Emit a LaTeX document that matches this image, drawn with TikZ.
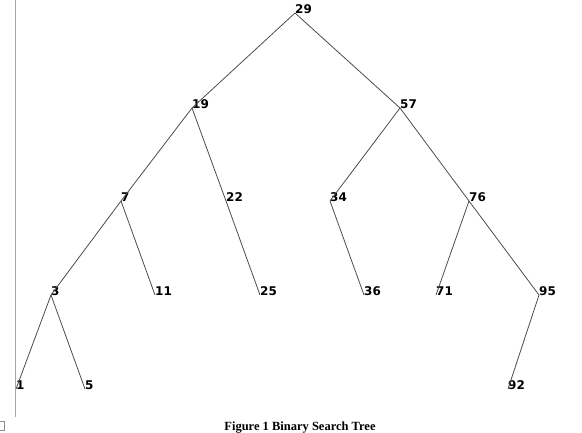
\documentclass[tikz,border=0pt]{standalone}
\usepackage{fontspec}
\setmainfont{Liberation Serif}
\newfontfamily\keyfont{DejaVu Sans}
\usepackage{tikz}
\usetikzlibrary{positioning}

\begin{document}
\begin{tikzpicture}[
  x=1pt, y=-1pt,
  key/.style={anchor=base west, inner sep=0pt, font=\keyfont\bfseries\fontsize{12}{14}\selectfont},
  edge/.style={draw=black!70, line width=0.8pt},
  margin/.style={draw=black!35, line width=0.9pt}
]

% Page area
\useasboundingbox (0,0) rectangle (582,432);

% Margin line and anchor mark
\draw[margin] (15,0) -- (15,417);
\draw[black!45, line width=0.8pt] (-2,421) rectangle (4,430);

% Keys of the tree
\node[key] (n29) at (295,13) {29};
\node[key] (n19) at (192,108) {19};
\node[key] (n57) at (400,108) {57};
\node[key] (n7)  at (121,201) {7};
\node[key] (n22) at (226,201) {22};
\node[key] (n34) at (330,201) {34};
\node[key] (n76) at (469,201) {76};
\node[key] (n3)  at (51,295) {3};
\node[key] (n11) at (155,295) {11};
\node[key] (n25) at (260,295) {25};
\node[key] (n36) at (364,295) {36};
\node[key] (n71) at (436,295) {71};
\node[key] (n95) at (539,295) {95};
\node[key] (n1)  at (16,389) {1};
\node[key] (n5)  at (85,389) {5};
\node[key] (n92) at (508,389) {92};

% Edges
\draw[edge] (n29.base west) -- (n19.base west);
\draw[edge] (n29.base west) -- (n57.base west);
\draw[edge] (n19.base west) -- (n7.base west);
\draw[edge] (n19.base west) -- (n22.base west);
\draw[edge] (n57.base west) -- (n34.base west);
\draw[edge] (n57.base west) -- (n76.base west);
\draw[edge] (n7.base west) -- (n3.base west);
\draw[edge] (n7.base west) -- (n11.base west);
\draw[edge] (n22.base west) -- (n25.base west);
\draw[edge] (n34.base west) -- (n36.base west);
\draw[edge] (n76.base west) -- (n71.base west);
\draw[edge] (n76.base west) -- (n95.base west);
\draw[edge] (n3.base west) -- (n1.base west);
\draw[edge] (n3.base west) -- (n5.base west);
\draw[edge] (n95.base west) -- (n92.base west);

% Caption
\node[font=\bfseries\fontsize{12.5}{14}\selectfont, anchor=base] (caption) at (300,430) {Figure 1 Binary Search Tree};

\end{tikzpicture}
\end{document}
